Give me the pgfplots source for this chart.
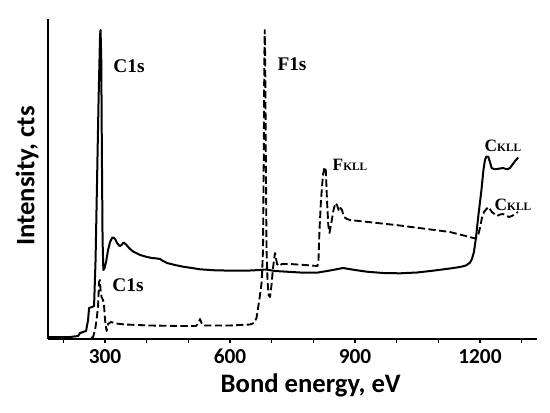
\documentclass[border=0pt]{standalone}
\usepackage{pgfplots}
\pgfplotsset{compat=1.18}
\usepackage{fontspec}
\setmainfont{Liberation Serif}
\newfontfamily\carlito{Carlito}
\begin{document}
\begin{tikzpicture}
\path[use as bounding box] (-36pt,-54.75pt) rectangle (376.5pt,254.25pt);
\begin{axis}[
  at={(0,0)}, anchor=south west,
  scale only axis, width=366.75pt, height=240pt,
  xmin=163, xmax=1337, ymin=0, ymax=320,
  axis x line=bottom, axis y line=left,
  axis line style={-, line width=1.1pt},
  ytick=\empty,
  xtick={300,600,900,1200},
  minor xtick={200,400,500,700,800,1000,1100,1300},
  tick align=outside, tick pos=left,
  major tick length=3pt, minor tick length=3pt,
  every tick/.style={line width=0.9pt, black},
  every minor tick/.style={line width=0.9pt, black},
  xticklabel style={font=\carlito\bfseries\fontsize{16}{16}\selectfont, yshift=-1pt},
  /pgf/number format/assume math mode=true,
  /pgf/number format/1000 sep={},
  clip=false,
]
\addplot[black, line width=1.5pt, line join=round] coordinates {
(163.2,2)(192,2)(216,2)(235.2,3)(240,6)(247.2,7)(254.4,8)(259.2,19)(261.6,31)(268.8,32)(273.6,33)(277.2,79)(280.8,159)(284.4,239)(288,304)(289.2,309)(290.9,279)(292.3,189)(294,99)(295.9,69)(298.8,71)(302.4,77)(307.2,89)(312,97)(316.8,101)(320.4,101.5)(324,100)(328.8,96)(334.8,93)(339.6,94)(344.4,96.5)(349.2,95)(357.6,91)(367.2,87.5)(384,84)(400.8,82)(412.8,81)(424.8,80.5)(432,80)(439.2,78)(448.8,76)(468,74)(487.2,72.3)(508.8,71)(528,69.7)(564,68.7)(607.2,68.3)(648,68.5)(672,69)(686.4,69.5)(708,68)(736.8,67.3)(768,66.5)(808.8,66.3)(840,68.5)(871.2,71)(900,69)(928.8,67.3)(967.2,66)(1008,65.7)(1048.8,66.5)(1087.2,68.3)(1128,70.5)(1152,72)(1166.4,73.5)(1176,76.3)(1180.8,80)(1185.6,87)(1190.4,101)(1196.4,124)(1203.6,149)(1208.4,169)(1212,179)(1215.6,182.5)(1219.9,182.3)(1224,177)(1228.1,171)(1233.6,170)(1240.8,170)(1248,170.5)(1255.2,171)(1262.4,170)(1267.2,170)(1272,171)(1279.2,175)(1286.4,179)(1292,181.5)
};
\addplot[black, line width=1.4pt, dash pattern=on 5.5pt off 2.5pt, line join=round] coordinates {
(266.4,1)(271.2,2)(276,9)(279.6,19)(283.2,33)(285.6,57)(287.5,59)(289.2,49)(291.6,42)(295.2,39)(297.6,33)(300,19)(303.6,8)(307.2,15)(314.4,17)(326.4,15.5)(348,14.5)(408,13.5)(480,13)(518.4,13)(524.4,16)(528,20)(531.6,16)(535.2,13.5)(600,13.5)(648,14.5)(657.6,16)(663.6,21)(668.4,34)(672,44)(676.1,57)(679.2,89)(681.1,189)(682.3,279)(683.3,309)(684.5,279)(685.9,189)(687.6,91)(690,59)(692.4,44)(696,42)(699.6,54)(703.2,71)(705.6,79)(708,86)(710.4,81)(712.8,75)(717.6,73)(724.8,75)(744,75)(780,74)(810,73)(812.4,79)(814.8,109)(818.4,139)(823.2,164)(826.8,172)(829.9,169)(832.8,139)(835.9,114)(838.8,106)(842.4,114)(848.4,129)(853.2,136)(856.8,134)(861.6,128)(865.2,131)(868.8,129)(873.6,122)(880.8,120)(888,119)(1008,113.5)(1128,107)(1189.2,100.5)(1195.2,103)(1200,111)(1204.8,121)(1209.6,127)(1215.6,130)(1220.4,132)(1224,130)(1228.8,127)(1233.6,125.5)(1240.8,123)(1248,124.5)(1255.2,125)(1262.4,123.5)(1269.6,122)(1276.8,123)(1284,125)(1291.2,127)
};
\node[font=\bfseries\fontsize{14.5}{14.5}\selectfont] at (axis cs:357.6,273) {C1s};
\node[font=\bfseries\fontsize{14.5}{14.5}\selectfont] at (axis cs:748.8,275) {F1s};
\node[font=\bfseries\fontsize{14.5}{14.5}\selectfont] at (axis cs:355.2,54) {C1s};
\node[font=\bfseries\fontsize{13}{13}\selectfont] at (axis cs:888,174) {F{\fontsize{8.5}{8.5}\selectfont KLL}};
\node[font=\bfseries\fontsize{13}{13}\selectfont] at (axis cs:1255.2,193) {C{\fontsize{8.5}{8.5}\selectfont KLL}};
\node[font=\bfseries\fontsize{13}{13}\selectfont] at (axis cs:1279.2,134) {C{\fontsize{8.5}{8.5}\selectfont KLL}};
\node[font=\carlito\bfseries\fontsize{20}{20}\selectfont] at (axis cs:793.7,-46) {Bond energy, eV};
\node[font=\carlito\bfseries\fontsize{20}{20}\selectfont, rotate=90] at (axis cs:112.8,163) {Intensity, cts};
\end{axis}
\end{tikzpicture}
\end{document}
